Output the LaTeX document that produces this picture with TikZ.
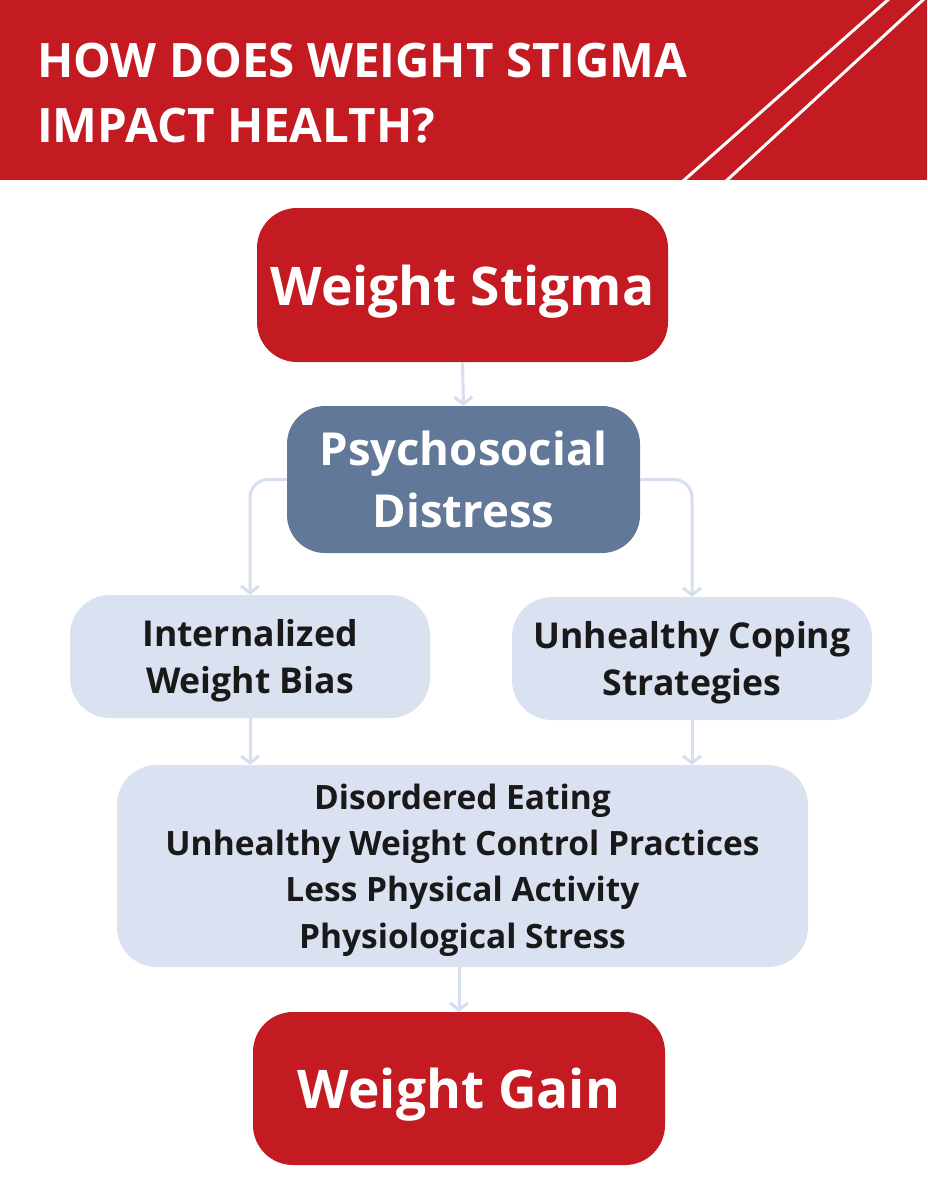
\documentclass[tikz,border=0pt]{standalone}
\usepackage{fontspec}
\setmainfont{Open Sans}
\usetikzlibrary{arrows.meta}
\definecolor{stigmared}{HTML}{C41A21}
\definecolor{slateblue}{HTML}{627898}
\definecolor{paleblue}{HTML}{DAE1F1}
\definecolor{arrowblue}{HTML}{D6DFF0}
\begin{document}
\begin{tikzpicture}[x=1pt, y=-1pt,
    title/.style={text=white, anchor=base west, inner sep=0pt, font=\fontsize{47.5}{60}\selectfont\bfseries},
    redbox/.style={fill=stigmared, text=white, rounded corners=40pt, inner sep=0pt, text depth=0pt,
        minimum width=411pt, minimum height=154pt, font=\fontsize{53.3}{62}\selectfont\bfseries},
    darkbox/.style={fill=slateblue, text=white, rounded corners=38pt, inner sep=0pt, align=center,
        minimum width=353pt, minimum height=147pt, font=\fontsize{45.5}{62}\selectfont\bfseries},
    palebox/.style={fill=paleblue, text=black!90, rounded corners=40pt, inner sep=0pt, align=center,
        text depth=0pt, font=\fontsize{35.6}{47}\selectfont\bfseries},
    link/.style={draw=arrowblue, line width=3pt, rounded corners=18pt,
        -{Straight Barb[length=7pt, width=18pt]}}]
    \useasboundingbox (0,0) rectangle (927,1200);
    \fill[white] (0,0) rectangle (927,1200);
    \begin{scope}
        \clip (0,0) rectangle (927,180);
        \fill[stigmared] (0,0) rectangle (927,180);
        \draw[white, line width=3pt] (682,182) -- (890,-2);
        \draw[white, line width=3pt] (725,182) -- (925,-2);
    \end{scope}
    \node[title] (title1) at (37,77) {HOW DOES WEIGHT STIGMA};
    \node[title] (title2) at (37,142) {IMPACT HEALTH?};

    \node[redbox] (stigma) at (462.5,285) {Weight Stigma};
    \node[darkbox] (distress) at (463.5,479.5) {Psychosocial\\Distress};
    \node[palebox, minimum width=360pt, minimum height=123pt] (bias) at (250,656.5) {Internalized\\Weight Bias};
    \node[palebox, minimum width=360pt, minimum height=123pt] (coping) at (692,658.5) {Unhealthy Coping\\Strategies};
    \node[palebox, minimum width=691pt, minimum height=202pt, font=\fontsize{33.5}{46.3}\selectfont\bfseries] (behav) at (462.5,866)
        {Disordered Eating\\Unhealthy Weight Control Practices\\Less Physical Activity\\Physiological Stress};
    \node[redbox, minimum width=412pt, minimum height=153pt] (gain) at (459,1088.5) {Weight Gain};

    \draw[link] (stigma.south) -- (distress.north);
    \draw[link] (distress.west) -| (bias.north);
    \draw[link] (distress.east) -| (coping.north);
    \draw[link] (bias.south) -- (bias.south |- behav.north);
    \draw[link] (coping.south) -- (coping.south |- behav.north);
    \draw[link] (gain.north |- behav.south) -- (gain.north);
\end{tikzpicture}
\end{document}
